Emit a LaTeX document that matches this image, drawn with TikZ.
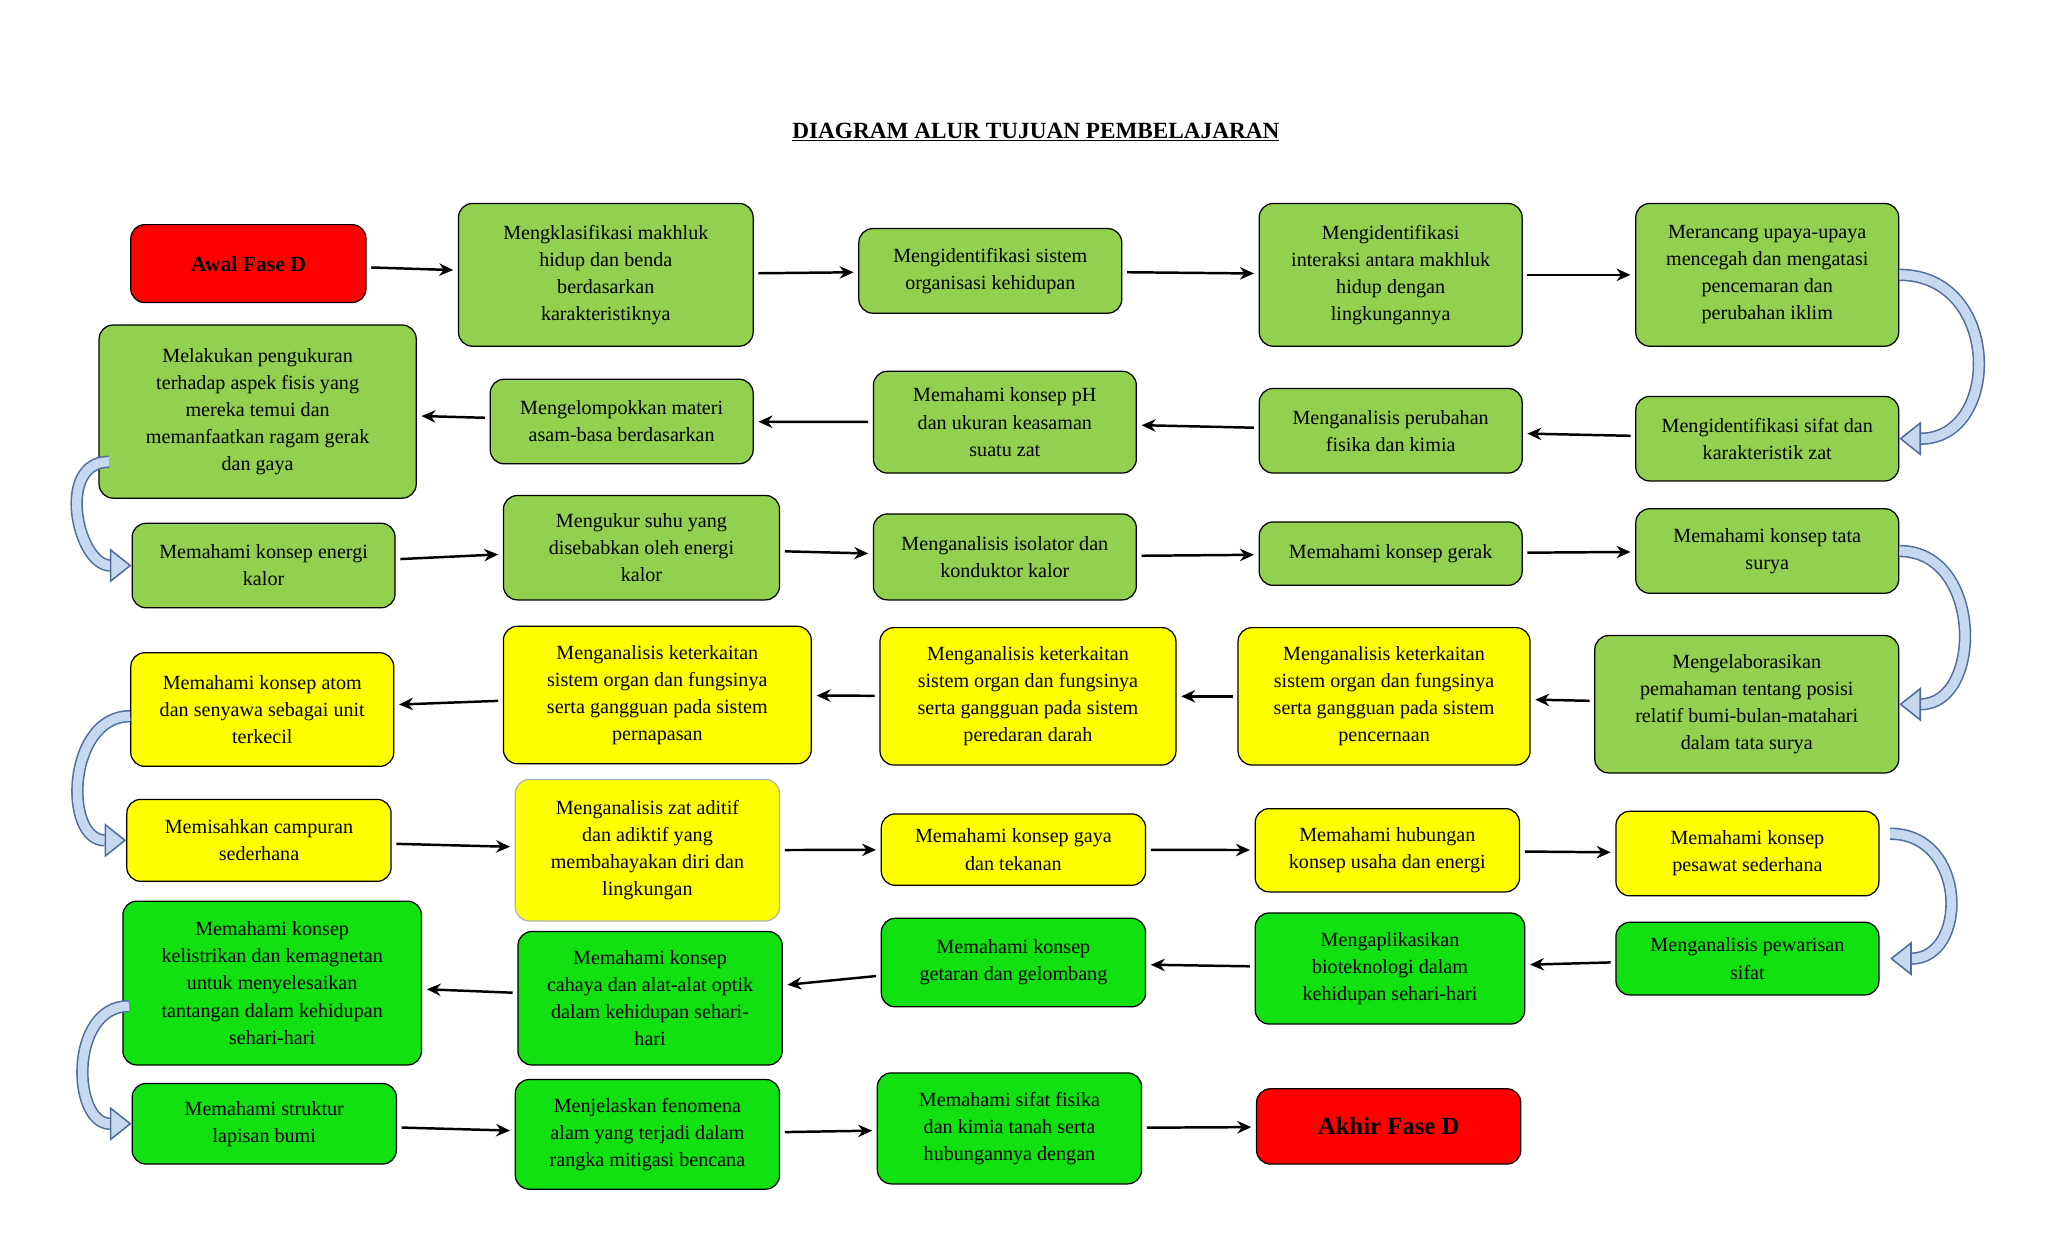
\documentclass[tikz,border=0pt]{standalone}
\usepackage{fontspec}
\setmainfont{Liberation Serif}
\usetikzlibrary{arrows.meta,calc}
\definecolor{lg}{HTML}{92D050}
\definecolor{yl}{HTML}{FFFF00}
\definecolor{bg}{HTML}{11E011}
\definecolor{rd}{HTML}{FF0000}
\definecolor{bin}{HTML}{C6D9F1}
\definecolor{bout}{HTML}{4F6E9A}
\tikzset{
 box/.style={draw=black, thick, rounded corners=9pt, align=center, font=\fontsize{13}{17.5}\selectfont, inner sep=2pt},
 arr/.style={-{Stealth[length=9pt,width=8pt]}, line width=1.6pt, shorten >=3pt, shorten <=3pt},
 fat/.style={draw=bout, line width=1pt, double=bin, double distance=6pt, -{Triangle[length=14pt,width=22pt,fill=bin]}},
}
\newcommand\bx[7]{\node[box,fill=#6,minimum width={(#4-#2)*0.03cm},minimum height={(#5-#3)*0.03cm}] (#1) at ({(#2+#4)/2},{(#3+#5)/2}) {#7};}
\begin{document}
\begin{tikzpicture}[x=0.03cm,y=-0.03cm]
\useasboundingbox[fill=white] (0,0) rectangle (1550,941);
\node (title) at (784,100) {\fontsize{15}{18}\selectfont\bfseries\underline{DIAGRAM ALUR TUJUAN PEMBELAJARAN}};
\bx{awal}{99}{170}{277}{229}{rd}{\fontsize{14}{17}\selectfont\bfseries Awal Fase D}
\bx{b1}{347}{154}{570}{262}{lg}{Mengklasifikasi makhluk\\hidup dan benda\\berdasarkan\\karakteristiknya}
\bx{b2}{650}{173}{849}{237}{lg}{Mengidentifikasi sistem\\organisasi kehidupan}
\bx{b3}{953}{154}{1152}{262}{lg}{Mengidentifikasi\\interaksi antara makhluk\\hidup dengan\\lingkungannya}
\bx{b4}{1238}{154}{1437}{262}{lg}{Merancang upaya-upaya\\mencegah dan mengatasi\\pencemaran dan\\perubahan iklim}
\bx{b5}{1238}{300}{1437}{364}{lg}{Mengidentifikasi sifat dan\\karakteristik zat}
\bx{b6}{953}{294}{1152}{358}{lg}{Menganalisis perubahan\\fisika dan kimia}
\bx{b7}{661}{281}{860}{358}{lg}{Memahami konsep pH\\dan ukuran keasaman\\suatu zat}
\bx{b8}{371}{287}{570}{351}{lg}{Mengelompokkan materi\\asam-basa berdasarkan}
\bx{b9}{75}{246}{315}{377}{lg}{Melakukan pengukuran\\terhadap aspek fisis yang\\mereka temui dan\\memanfaatkan ragam gerak\\dan gaya}
\bx{b10}{100}{396}{299}{460}{lg}{Memahami konsep energi\\kalor}
\bx{b11}{381}{375}{590}{454}{lg}{Mengukur suhu yang\\disebabkan oleh energi\\kalor}
\bx{b12}{661}{389}{860}{454}{lg}{Menganalisis isolator dan\\konduktor kalor}
\bx{b13}{953}{395}{1152}{443}{lg}{Memahami konsep gerak}
\bx{b14}{1238}{385}{1437}{449}{lg}{Memahami konsep tata\\surya}
\bx{b15}{1207}{481}{1437}{585}{lg}{Mengelaborasikan\\pemahaman tentang posisi\\relatif bumi-bulan-matahari\\dalam tata surya}
\bx{b16}{937}{475}{1158}{579}{yl}{Menganalisis keterkaitan\\sistem organ dan fungsinya\\serta gangguan pada sistem\\pencernaan}
\bx{b17}{666}{475}{890}{579}{yl}{Menganalisis keterkaitan\\sistem organ dan fungsinya\\serta gangguan pada sistem\\peredaran darah}
\bx{b18}{381}{474}{614}{578}{yl}{Menganalisis keterkaitan\\sistem organ dan fungsinya\\serta gangguan pada sistem\\pernapasan}
\bx{b19}{99}{494}{298}{580}{yl}{Memahami konsep atom\\dan senyawa sebagai unit\\terkecil}
\bx{b20}{96}{605}{296}{667}{yl}{Memisahkan campuran\\sederhana}
\node[box,draw=black!30,fill=yl,minimum width={200*0.03cm},minimum height={107*0.03cm}] (b21) at (490,643.5) {Menganalisis zat aditif\\dan adiktif yang\\membahayakan diri dan\\lingkungan};
\bx{b22}{667}{616}{867}{670}{yl}{Memahami konsep gaya\\dan tekanan}
\bx{b23}{950}{612}{1150}{675}{yl}{Memahami hubungan\\konsep usaha dan energi}
\bx{b24}{1223}{614}{1422}{678}{yl}{Memahami konsep\\pesawat sederhana}
\bx{b25}{1223}{698}{1422}{753}{bg}{Menganalisis pewarisan\\sifat}
\bx{b26}{950}{691}{1154}{775}{bg}{Mengaplikasikan\\bioteknologi dalam\\kehidupan sehari-hari}
\bx{b27}{667}{695}{867}{762}{bg}{Memahami konsep\\getaran dan gelombang}
\bx{b28}{392}{705}{592}{806}{bg}{Memahami konsep\\cahaya dan alat-alat optik\\dalam kehidupan sehari-\\hari}
\bx{b29}{93}{682}{319}{806}{bg}{Memahami konsep\\kelistrikan dan kemagnetan\\untuk menyelesaikan\\tantangan dalam kehidupan\\sehari-hari}
\bx{b30}{100}{820}{300}{881}{bg}{Memahami struktur\\lapisan bumi}
\bx{b31}{390}{817}{590}{900}{bg}{Menjelaskan fenomena\\alam yang terjadi dalam\\rangka mitigasi bencana}
\bx{b32}{664}{812}{864}{896}{bg}{Memahami sifat fisika\\dan kimia tanah serta\\hubungannya dengan}
\bx{akhir}{951}{824}{1151}{881}{rd}{\fontsize{16}{19}\selectfont\bfseries Akhir Fase D}
\foreach \a/\b in {awal/b1,b1/b2,b2/b3,b3/b4,b5/b6,b6/b7,b7/b8,b8/b9,b10/b11,b11/b12,b12/b13,b13/b14,b15/b16,b16/b17,b17/b18,b18/b19,b20/b21,b21/b22,b22/b23,b23/b24,b25/b26,b26/b27,b27/b28,b28/b29,b30/b31,b31/b32,b32/akhir}
  \draw[arr] (\a) -- (\b);
\draw[fat] (b4.east) to[out=0,in=0,looseness=1.6] (b5.east);
\draw[fat] (b14.east) to[out=0,in=0,looseness=1.4] (b15.east);
\draw[fat] ($(b24.east)+(8,-15)$) to[out=0,in=0,looseness=1.6] ($(b25.east)+(8,0)$);
\draw[fat] ($(b9.south west)+(8,-28)$) to[out=180,in=180,looseness=1.3] (b10.west);
\draw[fat] ($(b19.west)+(0,5)$) to[out=180,in=180,looseness=1.3] (b20.west);
\draw[fat] ($(b29.south west)+(5,-45)$) to[out=180,in=180,looseness=1.3] (b30.west);
\end{tikzpicture}
\end{document}
